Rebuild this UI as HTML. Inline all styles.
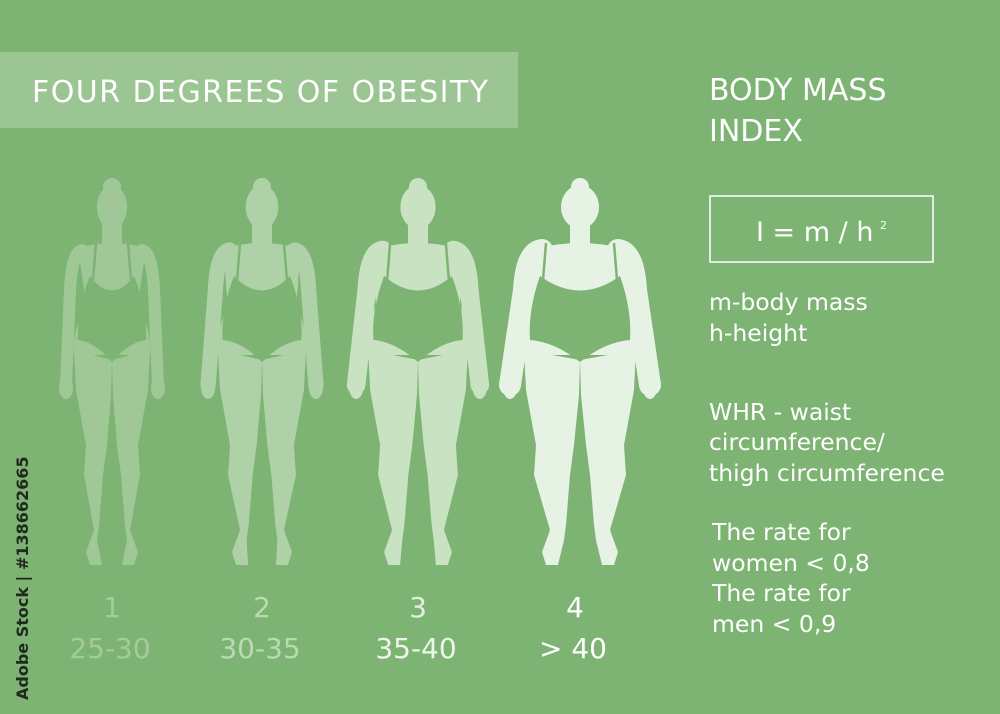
<!DOCTYPE html>
<html><head><meta charset="utf-8"><style>
body{margin:0;width:1000px;height:714px;overflow:hidden;background:#7db373;font-family:"Liberation Sans","DejaVu Sans",sans-serif}
svg{position:absolute;left:0;top:0}
</style></head><body>
<svg id="s" width="1000" height="714" viewBox="0 0 1000 714">
<rect width="1000" height="714" fill="#7db373"/>
<rect x="0" y="52" width="518" height="76" fill="#9bc592"/>
<text x="32" y="102" fill="#fff" font-size="30" font-family="DejaVu Sans, sans-serif" textLength="456">FOUR DEGREES OF OBESITY</text>
<text x="709" y="100" fill="#fff" font-size="30" font-family="DejaVu Sans, sans-serif">BODY MASS</text>
<text x="709" y="141" fill="#fff" font-size="30" font-family="DejaVu Sans, sans-serif">INDEX</text>
<rect x="710" y="196" width="223" height="66" fill="none" stroke="#fff" stroke-width="1.5"/>
<text x="756" y="241" fill="#fff" font-size="27" font-family="DejaVu Sans, sans-serif">I = m / h</text>
<text x="880" y="229" fill="#fff" font-size="11" font-family="DejaVu Sans, sans-serif">2</text>
<g fill="#fff" font-size="23.5" font-family="DejaVu Sans, sans-serif">
<text x="709" y="310">m-body mass</text>
<text x="709" y="341">h-height</text>
<text x="709" y="420">WHR - waist</text>
<text x="709" y="450">circumference/</text>
<text x="709" y="481">thigh circumference</text>
<text x="712" y="540">The rate for</text>
<text x="712" y="571">women &lt; 0,8</text>
<text x="712" y="601">The rate for</text>
<text x="712" y="632">men &lt; 0,9</text>
</g>
<g font-size="28" font-family="DejaVu Sans, sans-serif" text-anchor="middle">
<text x="112" y="617" fill="#a5cb9c">1</text><text x="110" y="658" fill="#a5cb9c">25-30</text>
<text x="262" y="617" fill="#bcd9b5">2</text><text x="260" y="658" fill="#bcd9b5">30-35</text>
<text x="418" y="617" fill="#e2f0de">3</text><text x="416" y="658" fill="#eef6ec">35-40</text>
<text x="575" y="617" fill="#fff">4</text><text x="573" y="658" fill="#fff">&gt; 40</text>
</g>
<text transform="translate(28,700) rotate(-90)" fill="#1f2a1d" font-size="16" font-weight="bold" font-family="DejaVu Sans, sans-serif">Adobe Stock | #138662665</text>
<g id="figs"></g>
</svg>
<script>
var g=document.getElementById('figs');
var figs=[[112,0,'#a0c897'],[262,0.33,'#afd1a7'],[418,0.66,'#c9e2c2'],[580,1,'#e6f2e3']];
function L(a,b,k){return a+(b-a)*k}
var h='';
figs.forEach(function(f){
 var c=f[0],k=f[1],col=f[2];
 var sh=L(34,42,k),wa=L(26,50,k),hp=L(38,56,k),kn=L(26,44,k),an=L(18,30,k),ik=L(5,6,k),W1=L(22,40,k),W2=L(34,50,k);
 h+='<g fill="'+col+'">';
 h+='<ellipse cx="'+c+'" cy="207" rx="'+L(15,19,k)+'" ry="22"/><circle cx="'+c+'" cy="187" r="9"/>';
 h+='<rect x="'+(c-10)+'" y="222" width="20" height="26"/>';
 h+='<path d="M'+(c-sh)+' 248 Q'+c+' 238 '+(c+sh)+' 248 Q'+(c+wa+4)+' 275 '+(c+wa)+' 305 Q'+(c+hp+2)+' 330 '+(c+hp)+' 355 L'+(c-hp)+' 355 Q'+(c-hp-2)+' 330 '+(c-wa)+' 305 Q'+(c-wa-4)+' 275 '+(c-sh)+' 248Z"/>';
 [-1,1].forEach(function(s){
  var p=[[hp,350],[hp-2,390],[kn,445],[kn+2,475],[an,530],[an+8,552],[an+4,565],[an-8,565],[ik+10,540],[ik+8,525],[ik+4,475],[ik,445],[1,395],[0,360]];
  h+='<path d="M'+p.map(function(q){return (c+s*q[0])+' '+q[1]}).join(' L')+'Z"/>';
  var ax=c+s*(sh+L(6,12,k)),hx=c+s*(L(40,58,k)+L(6,12,k));
  h+='<path d="M'+(c+s*(sh-4))+' 250 Q'+ax+' 252 '+(ax+s*2)+' 290 L'+hx+' 385" stroke="'+col+'" stroke-width="'+L(12,22,k)+'" stroke-linecap="round" fill="none"/>';
  h+='<ellipse cx="'+hx+'" cy="388" rx="7" ry="11"/>';
 });
 h+='</g>';
 h+='<path fill="#7db373" d="M'+(c-W1)+' 276 Q'+c+' 305 '+(c+W1)+' 276 Q'+(c+W2+2)+' 310 '+(c+W2)+' 340 Q'+(c+W2*0.5)+' 342 '+c+' 362 Q'+(c-W2*0.5)+' 342 '+(c-W2)+' 340 Q'+(c-W2-2)+' 310 '+(c-W1)+' 276Z"/>';
 h+='<path stroke="#7db373" stroke-width="2.5" fill="none" d="M'+(c-W1+3)+' 280 L'+(c-W1+6)+' 243 M'+(c+W1-3)+' 280 L'+(c+W1-6)+' 243"/>';
});
g.innerHTML=h;
</script>
</body></html>
